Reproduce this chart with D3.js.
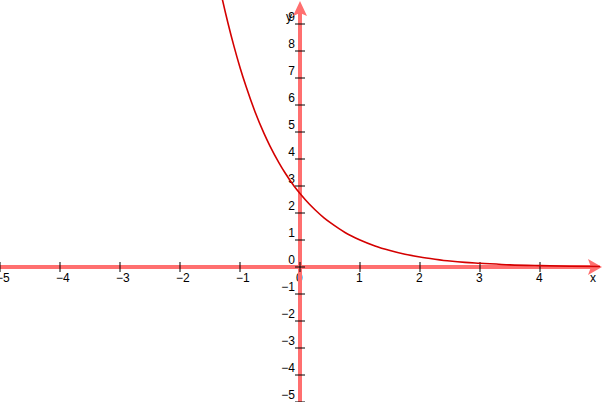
<!DOCTYPE html>
<html lang="en">
<head>
    <meta charset="UTF-8">
    <title>Document</title>
    <style>
        body { margin: 0; background: #fff; }
        text { font-family: 'Liberation Sans', sans-serif; font-size: 12px; fill: #000; }
    </style>
</head>
<script src="https://cdn.jsdelivr.net/npm/d3@7"></script>
<body>
</body>
<script>
    // tick values
    var xTicks = [-5, -4, -3, -2, -1, 0, 1, 2, 3, 4]
    var yTicks = [-5, -4, -3, -2, -1, 0, 1, 2, 3, 4, 5, 6, 7, 8, 9]
    // points along the red curve
    var curveX = [-1.4, -1.3, -1.2, -1.1, -1.0, -0.9, -0.75, -0.6, -0.5, -0.35, -0.25, -0.1, 0, 0.15, 0.25, 0.4, 0.5, 0.65, 0.75, 1.0, 1.25, 1.5, 1.75, 2.0, 2.25, 2.5, 2.75, 3.0, 3.5, 4.0, 4.5, 5.0]
    var curveY = [11.0, 9.97, 9.03, 8.17, 7.39, 6.69, 5.75, 4.95, 4.48, 3.86, 3.49, 3.0, 2.72, 2.34, 2.12, 1.82, 1.65, 1.42, 1.28, 1.0, 0.78, 0.61, 0.47, 0.37, 0.29, 0.22, 0.17, 0.14, 0.08, 0.05, 0.03, 0.02]

    var width = 608,
        height = 402,
        axisColor = '#ff6f6f',
        curveColor = '#d40000'

    var xScale = d3.scaleLinear()
        .domain([-5, 0])
        .range([0, 300])
    var yScale = d3.scaleLinear()
        .domain([0, 9])
        .range([267, 24])

    var svg = d3.select('body')
        .append('svg')
        .attr('width', width)
        .attr('height', height)

    var x0 = xScale(0),
        y0 = yScale(0)

    // tick labels (drawn first so the axes sit on top)
    svg.selectAll('.xlabel')
        .data(xTicks)
        .enter()
        .append('text')
        .attr('class', 'xlabel')
        .attr('x', d => xScale(d) - 4)
        .attr('y', y0 + 15)
        .text(d => d < 0 ? '\u2212' + Math.abs(d) : d)

    svg.selectAll('.ylabel')
        .data(yTicks)
        .enter()
        .append('text')
        .attr('class', 'ylabel')
        .attr('x', x0 - 5)
        .attr('y', d => yScale(d) - 3)
        .style('text-anchor', 'end')
        .text(d => d < 0 ? '\u2212' + Math.abs(d) : d)

    svg.append('text')
        .attr('x', 590)
        .attr('y', y0 + 15)
        .text('x')
    svg.append('text')
        .attr('x', x0 - 14)
        .attr('y', 21)
        .text('y')

    // axes
    svg.append('line')
        .attr('x1', 0)
        .attr('x2', 592)
        .attr('y1', y0)
        .attr('y2', y0)
        .attr('stroke', axisColor)
        .attr('stroke-width', 4)
    svg.append('line')
        .attr('x1', x0)
        .attr('x2', x0)
        .attr('y1', height)
        .attr('y2', 12)
        .attr('stroke', axisColor)
        .attr('stroke-width', 4)

    svg.append('path')
        .attr('d', 'M602,' + y0 + 'L588,' + (y0 - 8) + 'L591,' + y0 + 'L588,' + (y0 + 8) + 'Z')
        .attr('fill', axisColor)
    svg.append('path')
        .attr('d', 'M' + x0 + ',1L' + (x0 - 7) + ',16L' + x0 + ',13L' + (x0 + 7) + ',16Z')
        .attr('fill', axisColor)

    // tick marks
    svg.selectAll('.xtick')
        .data(xTicks)
        .enter()
        .append('line')
        .attr('class', 'xtick')
        .attr('x1', d => xScale(d))
        .attr('x2', d => xScale(d))
        .attr('y1', y0 - 5)
        .attr('y2', y0 + 5)
        .attr('stroke', '#000')
        .attr('stroke-width', 1)
    svg.selectAll('.ytick')
        .data(yTicks)
        .enter()
        .append('line')
        .attr('class', 'ytick')
        .attr('x1', x0 - 5)
        .attr('x2', x0 + 5)
        .attr('y1', d => yScale(d))
        .attr('y2', d => yScale(d))
        .attr('stroke', '#000')
        .attr('stroke-width', 1)

    // the curve
    var line = d3.line()
        .x((d, i) => xScale(curveX[i]))
        .y(d => yScale(d))
        .curve(d3.curveMonotoneX)

    svg.append('path')
        .datum(curveY)
        .attr('d', line)
        .attr('fill', 'none')
        .attr('stroke', curveColor)
        .attr('stroke-width', 1.6)
</script>
</html>
